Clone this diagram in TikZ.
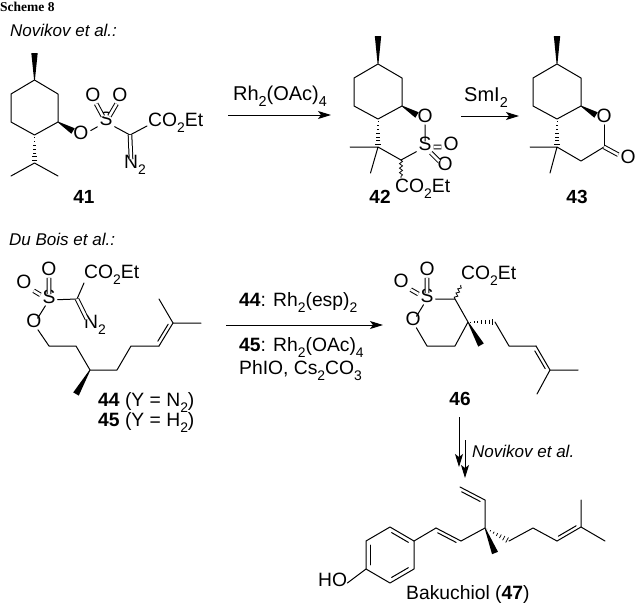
\documentclass[tikz,border=0pt]{standalone}
\usepackage{fontspec}
\setmainfont{Liberation Sans}
\newfontfamily\serifb{Liberation Serif}
\usetikzlibrary{calc,arrows.meta,decorations.pathmorphing}
\newcommand\sbs[1]{\raisebox{-.28em}{\scalebox{.72}{#1}}}
\newcommand\dbr[2]{\draw[bond] (#1)--(#2); \draw[bond] ($(#1)!.13!(#2)!3.5pt!90:(#2)$) -- ($(#2)!.13!(#1)!-3.5pt!90:(#1)$);}
\newcommand\dbl[2]{\draw[bond] (#1)--(#2); \draw[bond] ($(#1)!.13!(#2)!-3.5pt!90:(#2)$) -- ($(#2)!.13!(#1)!3.5pt!90:(#1)$);}
\newcommand\wdg[2]{\fill ($(#1)!.4pt!90:(#2)$) -- ($(#1)!.4pt!-90:(#2)$) -- ($(#2)!3.2pt!90:(#1)$) -- ($(#2)!3.2pt!-90:(#1)$) -- cycle;}
\newcommand\hsh[2]{\foreach \t in {.08,.22,.36,.5,.64,.78,.92}{\draw[line width=.7pt] ($(#1)!\t!(#2)!{3.1pt*\t}!90:(#2)$) -- ($(#1)!\t!(#2)!{-3.1pt*\t}!90:(#2)$);}}
\tikzset{
  bond/.style={line width=1pt,line cap=round,line join=round},
  dblb/.style={line width=1pt,double,double distance=2.6pt},
  wavy/.style={line width=.8pt,decorate,decoration={snake,amplitude=1.5pt,segment length=4.5pt}},
  rxn/.style={line width=1pt,-{Stealth[length=13pt,width=8pt,inset=3pt]}},
  lab/.style={inner sep=0pt,font=\fontsize{19.3}{22}\selectfont,text height=.72em,text depth=0pt},
  atom/.style={lab,inner sep=2pt},
  cmp/.style={lab,font=\fontsize{19}{22}\selectfont\bfseries},
  ital/.style={lab,font=\fontsize{17}{20}\selectfont\itshape},
  rgtb/.style={lab,font=\fontsize{20}{22}\selectfont}
}
\begin{document}
\begin{tikzpicture}[x=1pt,y=-1pt]
\useasboundingbox (0,0) rectangle (636,608);
\node[inner sep=0,anchor=west,font=\fontsize{13.5}{15}\selectfont\serifb\bfseries] (title) at (0,7) {Scheme 8};
\node[ital,anchor=west] (hdrA) at (10,33) {Novikov et al.:};
\node[ital,anchor=west] (hdrB) at (9,242) {Du Bois et al.:};

% ---- 41
\foreach \n/\p in {a/{34.5,80},b/{58,94},c/{58,122},d/{34.5,135},e/{11,122},f/{11,94},me/{34.5,53},ip/{34.5,163},ia/{11,176},ib/{58,176},cd/{130,135},we/{73,131}}
  \coordinate (A\n) at (\p);
\draw[bond] (Aa)--(Ab)--(Ac)--(Ad)--(Ae)--(Af)--cycle;
\draw[bond] (Aia)--(Aip)--(Aib);
\wdg{Aa}{Ame}\wdg{Ac}{Awe}\hsh{Ad}{Aip}
\node[atom] (AO) at (81,136) {O};
\node[atom] (AS) at (106,122) {S};
\node[atom] (AOa) at (93,98) {O};
\node[atom] (AOb) at (120,98) {O};
\node[lab,anchor=west] (ACO) at (148,123) {CO\sbs{2}Et};
\node[lab,anchor=west] (AN) at (124,165) {N\sbs{2}};
\node[cmp] (l41) at (84,200) {41};
\draw[bond] (AO)--(AS) (AS)--(Acd) (Acd)--([shift={(-1,3)}]ACO.west);
\draw[dblb] (AS)--(AOa) (AS)--(AOb);
\draw[dblb] (Acd)--([shift={(7,-2)}]AN.north west);

% ---- arrows top
\coordinate (r1a) at (228,115); \coordinate (r1b) at (331,115);
\draw[rxn] (r1a)--(r1b);
\node[rgtb] (r1t) at (280,97) {Rh\sbs{2}(OAc)\sbs{4}};
\coordinate (r2a) at (461,116); \coordinate (r2b) at (519,116);
\draw[rxn] (r2a)--(r2b);
\node[rgtb] (r2t) at (486,98) {SmI\sbs{2}};

% ---- 42
\foreach \n/\p in {a/{378,64},b/{402,78},c/{402,106},d/{378,119},e/{354,106},f/{354,78},me/{378,36},q/{378,147},m1/{350,147},m2/{370.5,173},h/{401,160},w/{401,178},we/{417,115}}
  \coordinate (B\n) at (\p);
\draw[bond] (Ba)--(Bb)--(Bc)--(Bd)--(Be)--(Bf)--cycle;
\wdg{Ba}{Bme}\wdg{Bc}{Bwe}\hsh{Bd}{Bq}
\draw[bond] (Bm1)--(Bq)--(Bm2) (Bq)--(Bh);
\node[atom] (BO) at (425,119) {O};
\node[atom] (BS) at (425,147) {S};
\node[atom] (BOa) at (451,147) {O};
\node[atom] (BOb) at (445,167) {O};
\node[lab,anchor=west] (BCO) at (395,189) {CO\sbs{2}Et};
\node[cmp] (l42) at (380,200) {42};
\draw[bond] (BO)--(BS) (BS)--(Bh);
\draw[dblb] (BS)--(BOa) (BS)--(BOb);
\draw[wavy] (Bh)--(Bw);

% ---- 43
\foreach \n/\p in {a/{557,64},b/{581,78},c/{581,106},d/{557,119},e/{533,106},f/{533,78},me/{557,36},q/{557,147},m1/{530,147},m2/{550,173},h/{581,161},k/{604,147},we/{596,115}}
  \coordinate (C\n) at (\p);
\draw[bond] (Ca)--(Cb)--(Cc)--(Cd)--(Ce)--(Cf)--cycle;
\wdg{Ca}{Cme}\wdg{Cc}{Cwe}\hsh{Cd}{Cq}
\draw[bond] (Cm1)--(Cq)--(Cm2) (Cq)--(Ch)--(Ck);
\node[atom] (CO) at (604,119) {O};
\node[atom] (COb) at (628,160) {O};
\node[cmp] (l43) at (577,200) {43};
\draw[bond] (CO)--(Ck);
\draw[dblb] (Ck)--(COb);

% ---- 44
\foreach \n/\p in {a/{49,346},b/{76,346},c/{90,370},d/{117,370},e/{131,346},f/{159,346},g/{173,323},h/{201,323},i/{159,299},w/{76,394},k/{77,299}}
  \coordinate (D\n) at (\p);
\node[atom] (DOt) at (49,272) {O};
\node[atom] (DS) at (49,300) {S};
\node[atom] (DOl) at (24,285) {O};
\node[atom] (DO) at (34,324) {O};
\node[lab,anchor=west] (DCO) at (84,275) {CO\sbs{2}Et};
\node[lab,anchor=west] (DN) at (84,325) {N\sbs{2}};
\draw[bond] (DS)--(DO) (DS)--(Dk) (Dk)--([shift={(0,8)}]DCO.west);
\draw[dblb] (DS)--(DOt) (DS)--(DOl);
\draw[dblb] (Dk)--([shift={(3,-2)}]DN.north west);
\draw[bond] (DO)--(Da)--(Db)--(Dc)--(Dd)--(De)--(Df);
\dbr{Df}{Dg}
\draw[bond] (Di)--(Dg)--(Dh);
\wdg{Dc}{Dw}
\node[lab,anchor=west] (l44) at (98,403) {\textbf{44} (Y = N\sbs{2})};
\node[lab,anchor=west] (l45) at (98,423) {\textbf{45} (Y = H\sbs{2})};

% ---- arrow middle
\coordinate (r3a) at (226,325); \coordinate (r3b) at (383,325);
\draw[rxn] (r3a)--(r3b);
\node[lab,anchor=west] (r3t) at (239,303) {\textbf{44}: Rh\sbs{2}(esp)\sbs{2}};
\node[lab,anchor=west] (r3u) at (239,348) {\textbf{45}: Rh\sbs{2}(OAc)\sbs{4}};
\node[lab,anchor=west] (r3v) at (239,371) {PhIO, Cs\sbs{2}CO\sbs{3}};

% ---- 46
\foreach \n/\p in {h/{455,299},w/{461,285},q/{468,322},a/{455,346},b/{427,346},c/{495,322},d/{509,346},e/{536,346},f/{550,370},g/{578,370},i/{537,394},m/{481,345}}
  \coordinate (E\n) at (\p);
\node[atom] (EOt) at (427,272) {O};
\node[atom] (ES) at (427,299) {S};
\node[atom] (EOl) at (401,284) {O};
\node[atom] (EO) at (413,322) {O};
\node[lab,anchor=west] (ECO) at (461,276) {CO\sbs{2}Et};
\node[cmp] (l46) at (460,402) {46};
\draw[bond] (ES)--(EO) (ES)--(Eh)--(Eq)--(Ea)--(Eb)--(EO);
\draw[dblb] (ES)--(EOt) (ES)--(EOl);
\draw[wavy] (Eh)--(Ew);
\hsh{Eq}{Ec}\wdg{Eq}{Em}
\draw[bond] (Ec)--(Ed)--(Ee);
\dbl{Ee}{Ef}
\draw[bond] (Ei)--(Ef)--(Eg);

% ---- double arrows
\coordinate (r4a) at (459,417); \coordinate (r4b) at (459,467);
\coordinate (r5a) at (465,440); \coordinate (r5b) at (465,478);
\draw[rxn] (r4a)--(r4b);
\draw[rxn] (r5a)--(r5b);
\node[ital,anchor=west] (r4t) at (472,454) {Novikov et al.};

% ---- 47
\foreach \n/\p in {v/{460,487},u/{485,500},q/{485,528},a/{461,541},b/{436,528},r1/{414,541},r2/{414,569},r3/{390,583},r4/{366,569},r5/{366,541},r6/{390,527},c/{509,541},d/{533,528},e/{557,541},f/{581,527},g/{605,541},h/{581,500},m/{495,553}}
  \coordinate (F\n) at (\p);
\dbl{Fv}{Fu}
\draw[bond] (Fu)--(Fq)--(Fa);
\dbr{Fa}{Fb}
\draw[bond] (Fb)--(Fr1);
\draw[bond] (Fr1)--(Fr2)--(Fr3)--(Fr4)--(Fr5)--(Fr6)--cycle;
\draw[bond] ($(Fr2)!.15!(Fr3)!4pt!-90:(Fr3)$)--($(Fr3)!.15!(Fr2)!-4pt!-90:(Fr2)$);
\draw[bond] ($(Fr4)!.15!(Fr5)!4pt!-90:(Fr5)$)--($(Fr5)!.15!(Fr4)!-4pt!-90:(Fr4)$);
\draw[bond] ($(Fr6)!.15!(Fr1)!4pt!-90:(Fr1)$)--($(Fr1)!.15!(Fr6)!-4pt!-90:(Fr6)$);
\hsh{Fq}{Fc}\wdg{Fq}{Fm}
\draw[bond] (Fc)--(Fd)--(Fe);
\dbr{Fe}{Ff}
\draw[bond] (Fg)--(Ff)--(Fh);
\node[lab,anchor=west] (FHO) at (318,583) {HO};
\draw[bond] (Fr4)--(FHO.east);
\node[lab,anchor=west] (l47) at (406,596) {Bakuchiol (\textbf{47})};
\end{tikzpicture}
\end{document}
